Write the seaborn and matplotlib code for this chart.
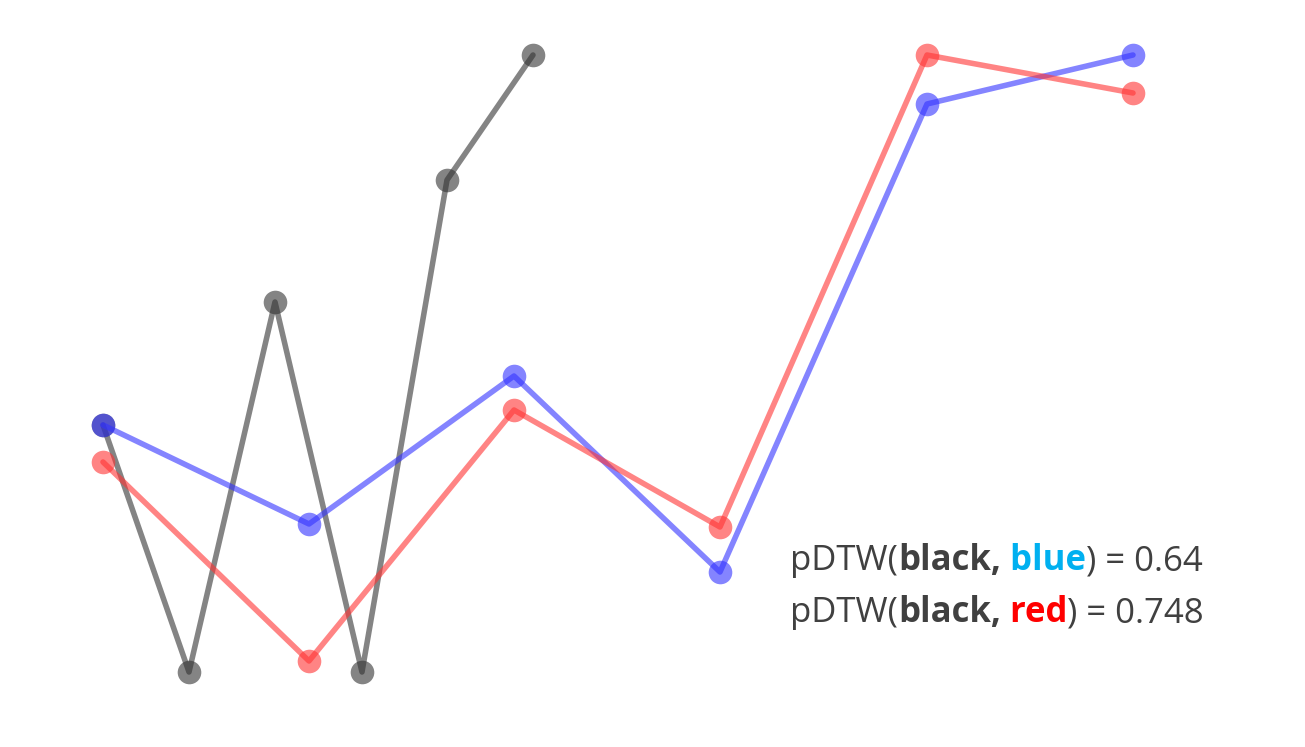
import matplotlib
matplotlib.use("Agg")
import matplotlib.pyplot as plt
import seaborn as sns
import pandas as pd

# values (arbitrary units, y up)
black_x = [103, 189, 275, 362, 447, 533]
black_y = [322, 75, 445, 75, 567, 692]
blue_x = [103, 309, 514, 720, 927, 1133]
blue_y = [322, 223, 371, 175, 643, 692]
red_x = [103, 309, 514, 720, 927, 1133]
red_y = [285, 86, 337, 220, 692, 654]

sns.set_theme(style="white")
plt.rcParams['font.family'] = ['Open Sans', 'DejaVu Sans']

fig = plt.figure(figsize=(13.05, 7.47), dpi=100)
ax = fig.add_axes([0, 0, 1, 1])

series = [(black_x, black_y, '#333333'), (blue_x, blue_y, '#3333ff'), (red_x, red_y, '#ff3333')]
for xs, ys, c in series:
    df = pd.DataFrame({'x': xs, 'y': ys})
    sns.lineplot(data=df, x='x', y='y', ax=ax, color=c, alpha=0.6, lw=4,
                 marker='o', markersize=17, markeredgewidth=0, sort=False)

ax.set_xlim(0, 1305)
ax.set_ylim(0, 747)
ax.axis('off')

renderer = fig.canvas.get_renderer()
lines = [
    [("pDTW(", '#404040', 'normal'), ("black,", '#404040', 'bold'), (" blue", '#00b0f0', 'bold'), (") = 0.64", '#404040', 'normal')],
    [("pDTW(", '#404040', 'normal'), ("black,", '#404040', 'bold'), (" red", '#ff0000', 'bold'), (") = 0.748", '#404040', 'normal')],
]
for i, parts in enumerate(lines):
    x = 790
    y = 747 - 570 - i * 52
    for s, c, w in parts:
        t = fig.text(x / 1305, y / 747, s, color=c, fontweight=w, fontsize=25,
                     ha='left', va='baseline')
        bb = t.get_window_extent(renderer)
        x = bb.x1

fig.savefig('out.png', dpi=100)
